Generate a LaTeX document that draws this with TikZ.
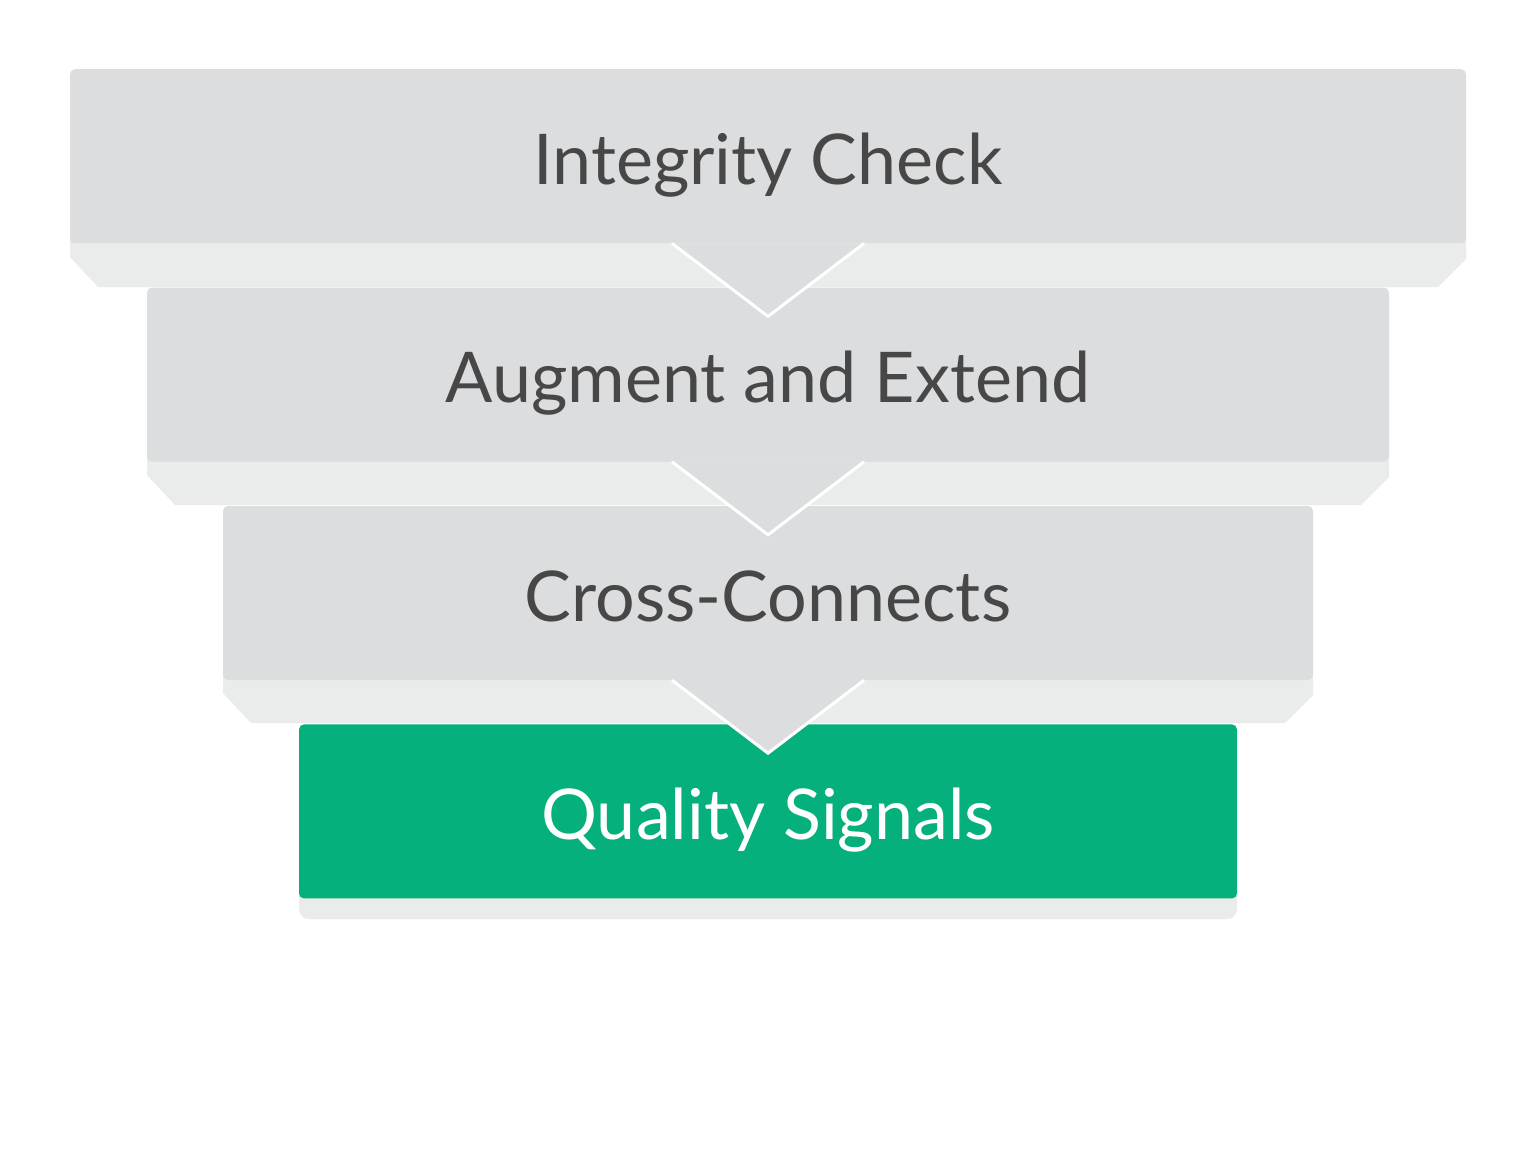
\documentclass[tikz,border=0pt]{standalone}
\usepackage{fontspec}
\setmainfont{Lato}
\usetikzlibrary{calc, positioning}

\definecolor{facegray}{HTML}{DCDDDE}
\definecolor{ledgegray}{HTML}{EAEBEB}
\definecolor{stepgreen}{HTML}{05B07C}
\definecolor{textgray}{HTML}{474747}

\tikzset{
  stepface/.style={fill=facegray, rounded corners=5pt, minimum height=174pt,
    text height=50pt, text depth=0pt, inner sep=0pt, text=textgray,
    font=\fontsize{70}{78}\selectfont},
  lastface/.style={stepface, fill=stepgreen, text=white},
  ledge/.style={fill=ledgegray},
  chevron/.style={draw=white, line width=3pt, fill=facegray, line join=miter}
}

\begin{document}
\begin{tikzpicture}[x=1pt, y=-1pt]
\useasboundingbox[fill=white] (0,0) rectangle (1536,1152);

% Integrity check
\fill[ledge] (70,235) -- (70,257) -- (98,287) -- (1438,287) -- (1466,259) -- (1466,235) -- cycle;
\node[stepface, minimum width=1396pt, anchor=north] (integ) at (768,69) {\raisebox{-3pt}{Integrity Check}};

% Augment and extend
\fill[ledge] (147,453) -- (147,475) -- (175,505) -- (1361,505) -- (1389,477) -- (1389,453) -- cycle;
\node[stepface, minimum width=1242pt, below=44pt of integ] (augment) {\raisebox{-3pt}{Augment and Extend}};

% Cross-connects
\fill[ledge] (223,671) -- (223,693) -- (251,723) -- (1285,723) -- (1313,695) -- (1313,671) -- cycle;
\node[stepface, minimum width=1090pt, below=44pt of augment] (cross) {\raisebox{-3pt}{Cross-Connects}};

% Quality signals
\fill[ledge, rounded corners=10pt] (299,880) rectangle (1237,919);
\node[lastface, minimum width=938pt, below=44pt of cross] (quality) {\raisebox{-3pt}{Quality Signals}};

% Chevrons between the steps
\foreach \from in {integ, augment, cross} {
  \filldraw[chevron] ($(\from.south)+(-96,0)$) -- ($(\from.south)+(0,73)$) -- ($(\from.south)+(96,0)$);
}
\end{tikzpicture}
\end{document}
